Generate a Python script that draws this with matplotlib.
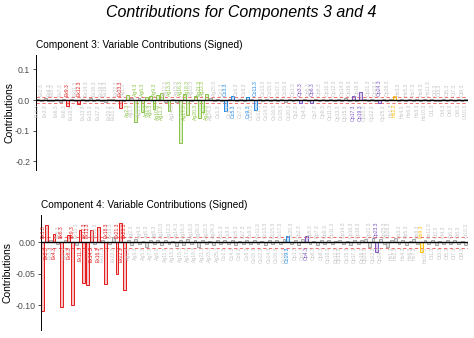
import matplotlib
matplotlib.use("Agg")
import matplotlib.pyplot as plt
from matplotlib.colors import to_rgba

plt.rcParams['font.family'] = ['Liberation Sans', 'DejaVu Sans']

# ---- data ----
group_names = ["Ext", "Agr", "Con", "Opn", "Hon", "Oth"]
group_sizes = [23, 25, 20, 26, 11, 10]
group_colors = ["#E31A1C", "#8BC34A", "#1E88E5", "#7E57C2", "#FFC107", "#9E9E9E"]

comp3 = [
    0.004, -0.003, 0.005, -0.002, -0.004, 0.003, -0.005, 0.002, -0.020, 0.003,
    -0.002, -0.014, 0.004, -0.003, 0.005, -0.004, 0.002, -0.003, -0.005, 0.004,
    0.003, -0.002, -0.025,
    -0.004, 0.016, 0.006, -0.072, 0.008, -0.040, 0.011, 0.013, -0.029, 0.016,
    0.022, -0.005, -0.035, 0.004, -0.006, -0.140, 0.020, -0.049, -0.003, 0.013,
    -0.058, -0.038, 0.020, 0.005, -0.004,
    0.003, -0.004, -0.037, 0.002, 0.012, -0.003, 0.004, -0.002, 0.011, 0.003,
    -0.033, 0.002, -0.004, 0.003, -0.002, 0.004, -0.003, 0.002, -0.005, 0.003,
    -0.003, 0.004, -0.010, 0.002, -0.003, -0.011, 0.003, -0.002, 0.004, -0.003,
    0.002, -0.004, 0.003, -0.002, 0.005, -0.003, 0.013, -0.002, 0.025, 0.003,
    -0.004, 0.002, -0.003, -0.010, 0.004, -0.002,
    0.003, 0.012, -0.002, 0.004, -0.003, 0.002, -0.004, 0.003, -0.002, 0.003,
    -0.003,
    0.004, -0.002, -0.004, 0.003, -0.003, 0.002, -0.002, 0.003, -0.004, 0.002,
]

comp4 = [
    -0.109, 0.028, 0.004, 0.013, -0.003, -0.102, 0.003, 0.011, -0.099, -0.004,
    0.019, -0.064, -0.067, 0.019, -0.003, 0.025, 0.004, -0.066, -0.002, 0.008,
    -0.050, 0.030, -0.075,
    0.003, -0.004, 0.005, -0.003, 0.002, -0.007, 0.004, -0.002, 0.003, -0.005,
    0.004, -0.003, 0.002, -0.006, 0.003, -0.004, 0.005, -0.002, 0.003, -0.007,
    0.004, -0.003, 0.002, -0.004, 0.003,
    -0.003, 0.004, -0.002, 0.003, -0.004, 0.002, -0.003, 0.004, -0.002, 0.003,
    -0.003, 0.002, -0.004, 0.003, -0.002, 0.004, -0.003, 0.005, 0.010, -0.002,
    0.003, -0.004, 0.005, 0.010, -0.003, 0.002, -0.004, 0.003, -0.002, 0.004,
    -0.003, 0.002, 0.004, -0.003, 0.002, -0.004, 0.003, -0.002, 0.004, 0.006,
    -0.007, 0.007, -0.015, 0.006, -0.003, -0.008,
    0.003, 0.007, -0.002, 0.003, -0.004, 0.002, 0.005, -0.003, -0.016, 0.003,
    -0.002,
    0.003, -0.004, 0.002, -0.003, 0.004, -0.002, 0.003, -0.003, 0.002, -0.004,
]

var_names = []
var_groups = []
for g, (gn, gs) in enumerate(zip(group_names, group_sizes)):
    for k in range(gs):
        var_names.append(f"{gn[:2]}{k + 1}.3")
        var_groups.append(g)

N = len(var_names)
threshold = 1.0 / N

W, H = 474, 338
fig = plt.figure(figsize=(W / 100, H / 100), dpi=100)


def px_axes(left, right, top, bottom):
    return fig.add_axes([left / W, 1 - bottom / H, (right - left) / W, (bottom - top) / H])


def draw_panel(ax, vals, ylim, yticks, yticklabels, title, ylab_x):
    xs = list(range(N))
    edge = []
    face = []
    lab_col = []
    for v, g in zip(vals, var_groups):
        if abs(v) > threshold and g < 5:
            c = group_colors[g]
            edge.append(c)
            face.append(to_rgba(c, 0.25))
            lab_col.append(c)
        else:
            edge.append("#A8A8A8")
            face.append(to_rgba("#A8A8A8", 0.35))
            lab_col.append("#C4C4C4")
    ax.axhline(threshold, color="#E8585A", lw=0.6, ls=(0, (4, 3)), zorder=1)
    ax.axhline(-threshold, color="#E8585A", lw=0.6, ls=(0, (4, 3)), zorder=1)
    ax.bar(xs, vals, width=0.78, color=face, edgecolor=edge, linewidth=0.7, zorder=2)
    ax.axhline(0, color="black", lw=1.0, zorder=3)
    for x, v, name, c in zip(xs, vals, var_names, lab_col):
        if v < 0:
            ax.annotate(name, xy=(x, 0), xytext=(0, 3), textcoords="offset points",
                        rotation=90, ha="center", va="bottom", fontsize=3.6, color=c, zorder=4)
        else:
            ax.annotate(name, xy=(x, 0), xytext=(0, -3), textcoords="offset points",
                        rotation=90, ha="center", va="top", fontsize=3.6, color=c, zorder=4)
    ax.set_xlim(-0.5, N - 0.4)
    ax.set_ylim(*ylim)
    ax.set_yticks(yticks)
    ax.set_yticklabels(yticklabels)
    ax.set_xticks([])
    for s in ["top", "right", "bottom"]:
        ax.spines[s].set_visible(False)
    ax.spines["left"].set_linewidth(0.7)
    ax.tick_params(axis="y", length=2.5, width=0.6, color="#333333",
                   labelsize=6.3, labelcolor="#4D4D4D", pad=1.5)
    ax.set_ylabel("Contributions", fontsize=7.5)
    ax.yaxis.set_label_coords(ylab_x, 0.5)
    ax.set_title(title, loc="left", fontsize=7.3, pad=5)
    ax.patch.set_alpha(0)


ax1 = px_axes(35.7, 468, 55, 170)
draw_panel(ax1, comp3, (-0.228, 0.1466), [-0.2, -0.1, 0.0, 0.1],
           ["-0.2", "-0.1", "0.0", "0.1"],
           "Component 3: Variable Contributions (Signed)", -0.048)

ax2 = px_axes(41, 468, 215, 330)
draw_panel(ax2, comp4, (-0.1392, 0.0433), [-0.10, -0.05, 0.0],
           ["-0.10", "-0.05", "0.00"],
           "Component 4: Variable Contributions (Signed)", -0.066)

fig.text(241 / W, 1 - 12 / H, "Contributions for Components 3 and 4",
         ha="center", va="center", fontsize=11.5, style="italic")

fig.savefig("out.png", dpi=100)
